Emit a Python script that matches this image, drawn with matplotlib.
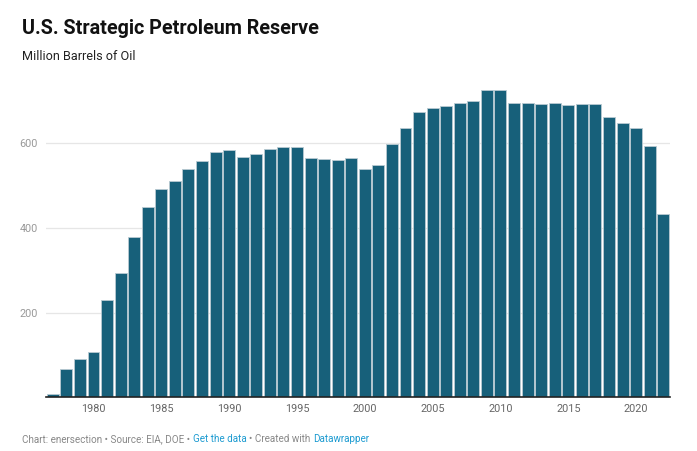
import matplotlib
matplotlib.use("Agg")
from matplotlib import pyplot as plt
import numpy as np

plt.rcParams['font.family'] = ['Roboto', 'DejaVu Sans']

# Data (million barrels, end of year)
years = list(range(1977, 2023))
reserve = [7, 68, 91, 107, 229, 293, 378, 449, 492, 510,
           539, 558, 578, 584, 567, 574, 586, 590, 590, 564,
           562, 560, 565, 539, 549, 598, 637, 674, 682, 687,
           695, 700, 725, 725, 694, 694, 693, 694, 689, 693,
           693, 661, 648, 637, 593, 433]
y_ticks = [200, 400, 600]
x_ticks = [1980, 1985, 1990, 1995, 2000, 2005, 2010, 2015, 2020]

bar_color = '#17607a'
grey = '#999999'

fig = plt.figure(figsize=(6.97, 4.51), dpi=100)
ax = fig.add_axes([0.066, 0.119, 0.8953, 0.7138])

ax.bar(years, reserve, width=0.88, color=bar_color,
       edgecolor='#b9cad2', linewidth=0.6, zorder=3)

ax.set_xlim(1976.5, 2022.5)
ax.set_ylim(0, 760)

ax.set_yticks(y_ticks)
ax.set_yticklabels([str(t) for t in y_ticks])
ax.set_xticks(x_ticks)
ax.set_xticklabels([str(t) for t in x_ticks])

ax.grid(axis='y', color='#e6e6e6', linewidth=0.9, zorder=0)
ax.tick_params(axis='y', length=0, pad=6, labelsize=7.8, labelcolor=grey)
ax.tick_params(axis='x', length=0, pad=5, labelsize=7.8, labelcolor='#666666')

for side in ['top', 'right', 'left']:
    ax.spines[side].set_visible(False)
ax.spines['bottom'].set_color('#222222')
ax.spines['bottom'].set_linewidth(1.2)
ax.spines['bottom'].set_zorder(4)

# Title block
fig.text(22 / 697, 1 - 28 / 451, "U.S. Strategic Petroleum Reserve",
         fontsize=14.2, fontweight='bold', color='#111111', va='center')
fig.text(22 / 697, 1 - 57 / 451, "Million Barrels of Oil",
         fontsize=9.1, color='#222222', va='center')

# Footer with coloured links; each piece starts where the text before it ends
footer_y = 1 - 439.5 / 451
footer_size = 7.15
parts = [("Chart: enersection \u2022 Source: EIA, DOE \u2022 ", '#888888'),
         ("Get the data", '#1d9bd1'),
         (" \u2022 Created with ", '#888888'),
         ("Datawrapper", '#1d9bd1')]
fig.canvas.draw()
renderer = fig.canvas.get_renderer()


def text_width(s):
    t = fig.text(0, 0, s, fontsize=footer_size)
    w = t.get_window_extent(renderer=renderer).width
    t.remove()
    return w


bar_w = text_width("|")
prefix = ""
for txt, col in parts:
    body = txt.strip()
    lead = txt[:len(txt) - len(txt.lstrip())]
    start = prefix + lead
    offset = text_width(start + "|") - bar_w if start else 0.0
    fig.text((22.0 + offset) / fig.bbox.width, footer_y, body,
             fontsize=footer_size, color=col, va='center')
    prefix += txt

fig.savefig("out.png", dpi=100)
